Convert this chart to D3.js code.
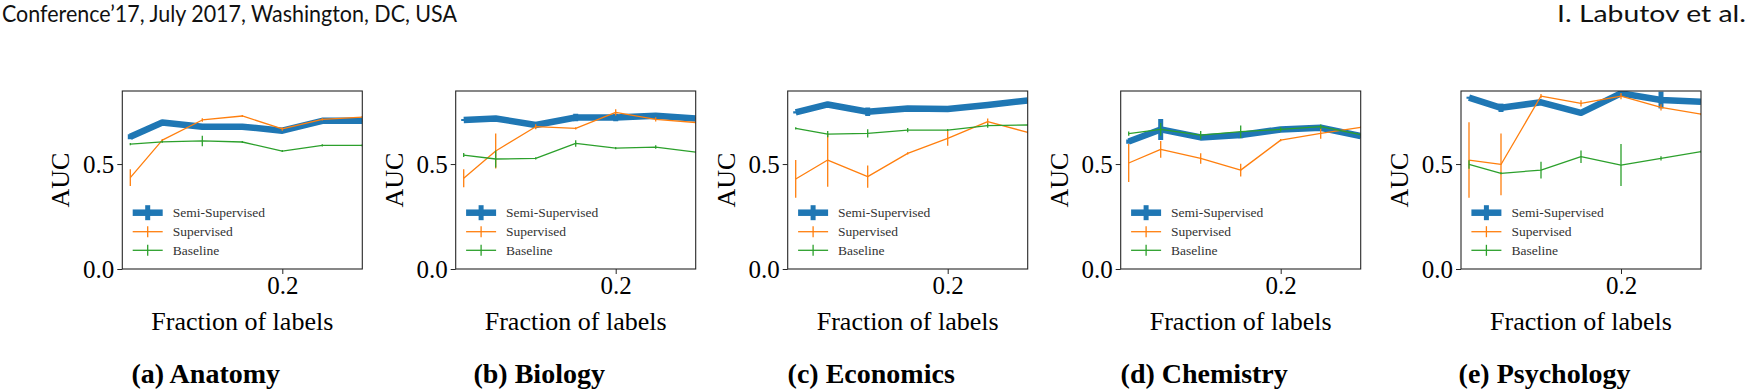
<!DOCTYPE html>
<html><head><meta charset="utf-8">
<script src="https://cdn.jsdelivr.net/npm/d3@7"></script>
<style>body{margin:0;background:#fff;} svg{display:block;}</style>
</head><body>
<svg id="chart" width="1754" height="391"></svg>
<script>
// ---------- data ----------
const xValues = [0.048, 0.08, 0.12, 0.16, 0.20, 0.24, 0.28];
const panelNames = ["(a) Anatomy", "(b) Biology", "(c) Economics", "(d) Chemistry", "(e) Psychology"];
const seriesNames = ["Semi-Supervised", "Supervised", "Baseline"];
const yTicks = [0.0, 0.5];
const xTicks = [0.2];
const headerLeft = "Conference’17, July 2017, Washington, DC, USA";
const headerRight = "I. Labutov et al.";
const xLabel = "Fraction of labels";
const yLabel = "AUC";

const semiValues = [
  [0.630, 0.698, 0.678, 0.678, 0.659, 0.706, 0.706],
  [0.710, 0.717, 0.686, 0.722, 0.722, 0.730, 0.717],
  [0.746, 0.784, 0.749, 0.765, 0.762, 0.781, 0.803],
  [0.607, 0.665, 0.627, 0.638, 0.665, 0.673, 0.633],
  [0.816, 0.768, 0.794, 0.744, 0.837, 0.805, 0.797]
];
const semiErrors = [
  [0.012, 0.005, 0.010, 0.005, 0.005, 0.005, 0.005],
  [0.005, 0.005, 0.012, 0.018, 0.018, 0.005, 0.005],
  [0.005, 0.005, 0.020, 0.005, 0.005, 0.005, 0.005],
  [0.010, 0.050, 0.008, 0.015, 0.008, 0.005, 0.010],
  [0.005, 0.020, 0.005, 0.005, 0.005, 0.040, 0.005]
];
const supValues = [
  [0.435, 0.614, 0.710, 0.729, 0.667, 0.713, 0.724],
  [0.432, 0.562, 0.678, 0.670, 0.746, 0.713, 0.698],
  [0.429, 0.519, 0.440, 0.551, 0.622, 0.702, 0.651],
  [0.505, 0.570, 0.527, 0.471, 0.614, 0.646, 0.675],
  [0.519, 0.498, 0.824, 0.789, 0.824, 0.770, 0.738]
];
const supErrors = [
  [0.040, 0.005, 0.008, 0.005, 0.008, 0.005, 0.005],
  [0.043, 0.083, 0.012, 0.005, 0.015, 0.010, 0.005],
  [0.090, 0.127, 0.053, 0.005, 0.035, 0.015, 0.005],
  [0.090, 0.040, 0.025, 0.030, 0.005, 0.025, 0.005],
  [0.180, 0.147, 0.010, 0.015, 0.015, 0.015, 0.005]
];
const baseValues = [
  [0.595, 0.606, 0.610, 0.605, 0.562, 0.589, 0.589],
  [0.543, 0.524, 0.527, 0.598, 0.576, 0.581, 0.557],
  [0.670, 0.643, 0.646, 0.662, 0.662, 0.683, 0.686],
  [0.645, 0.665, 0.638, 0.654, 0.665, 0.678, 0.640],
  [0.498, 0.456, 0.471, 0.535, 0.495, 0.527, 0.559]
];
const baseErrors = [
  [0.005, 0.005, 0.025, 0.005, 0.005, 0.005, 0.005],
  [0.010, 0.040, 0.005, 0.015, 0.005, 0.008, 0.005],
  [0.005, 0.015, 0.020, 0.010, 0.005, 0.010, 0.005],
  [0.010, 0.030, 0.020, 0.030, 0.010, 0.010, 0.005],
  [0.020, 0.005, 0.040, 0.030, 0.100, 0.010, 0.005]
];

// ---------- layout / style ----------
const axLeft = [122.3, 455.7, 787.7, 1120.7, 1461];
const axW = 240, axTop = 91, axBottom = 269;
const serif = "'Liberation Serif', 'Times New Roman', serif";
const colors = ["#1f77b4", "#ff7f0e", "#2ca02c"];
const widths = [6.5, 1.3, 1.3];
const errWidths = [5, 1.3, 1.3];
const allValues = [semiValues, supValues, baseValues];
const allErrors = [semiErrors, supErrors, baseErrors];

const svg = d3.select("#chart");

svg.append("text").attr("x", 2).attr("y", 22)
  .attr("font-family", "Lato, 'Open Sans', sans-serif").attr("font-size", 23)
  .attr("textLength", 455).attr("lengthAdjust", "spacingAndGlyphs")
  .attr("fill", "#111").text(headerLeft);
svg.append("text").attr("x", 1557).attr("y", 22)
  .attr("font-family", "Lato, 'Open Sans', sans-serif").attr("font-size", 23)
  .attr("textLength", 189).attr("lengthAdjust", "spacingAndGlyphs")
  .attr("fill", "#111").text(headerRight);

const y = d3.scaleLinear().domain([0, 0.848]).range([axBottom, axTop]);
const defs = svg.append("defs");

panelNames.forEach((name, i) => {
  const L = axLeft[i];
  const x = d3.scaleLinear().domain([0.04, 0.28]).range([L, L + axW]);
  const g = svg.append("g");

  defs.append("clipPath").attr("id", "clip" + i)
    .append("rect").attr("x", L).attr("y", axTop).attr("width", axW).attr("height", axBottom - axTop);

  // axes
  const ya = g.append("g").attr("transform", `translate(${L},0)`)
    .call(d3.axisLeft(y).tickValues(yTicks).tickFormat(d3.format(".1f")).tickSize(5).tickPadding(3));
  const xa = g.append("g").attr("transform", `translate(0,${axBottom})`)
    .call(d3.axisBottom(x).tickValues(xTicks).tickFormat(d3.format(".1f")).tickSize(5).tickPadding(2));
  [ya, xa].forEach(a => {
    a.select(".domain").remove();
    a.attr("font-family", serif).attr("font-size", 25);
    a.selectAll("line").attr("stroke", "#262626").attr("stroke-width", 1);
    a.selectAll("text").attr("fill", "#000");
  });

  // series
  const plot = g.append("g").attr("clip-path", `url(#clip${i})`);
  allValues.forEach((vals, s) => {
    const v = vals[i], e = allErrors[s][i];
    const line = d3.line().x((d, k) => x(xValues[k])).y(d => y(d));
    plot.append("path").datum(v).attr("d", line)
      .attr("fill", "none").attr("stroke", colors[s]).attr("stroke-width", widths[s])
      .attr("stroke-linejoin", "round");
    plot.selectAll(null).data(v).enter().append("line")
      .attr("x1", (d, k) => x(xValues[k])).attr("x2", (d, k) => x(xValues[k]))
      .attr("y1", (d, k) => y(d - e[k])).attr("y2", (d, k) => y(d + e[k]))
      .attr("stroke", colors[s]).attr("stroke-width", errWidths[s]);
  });

  // box
  g.append("rect").attr("x", L).attr("y", axTop).attr("width", axW).attr("height", axBottom - axTop)
    .attr("fill", "none").attr("stroke", "#262626").attr("stroke-width", 1.1);

  // legend
  const legY = [212.7, 231.7, 250.3];
  const legBar = [7.5, 5.5, 5.5];
  seriesNames.forEach((sn, s) => {
    g.append("line").attr("x1", L + 10.4).attr("x2", L + 40.4).attr("y1", legY[s]).attr("y2", legY[s])
      .attr("stroke", colors[s]).attr("stroke-width", widths[s]);
    g.append("line").attr("x1", L + 25.4).attr("x2", L + 25.4)
      .attr("y1", legY[s] - legBar[s]).attr("y2", legY[s] + legBar[s])
      .attr("stroke", colors[s]).attr("stroke-width", errWidths[s]);
    g.append("text").attr("x", L + 50.4).attr("y", legY[s]).attr("dy", "0.35em")
      .attr("font-family", serif).attr("font-size", 13.5).attr("fill", "#333").text(sn);
  });

  // labels
  g.append("text").attr("x", L + axW / 2).attr("y", 330).attr("text-anchor", "middle")
    .attr("font-family", serif).attr("font-size", 26).attr("fill", "#000").text(xLabel);
  g.append("text").attr("transform", `translate(${L - 62},180) rotate(-90)`)
    .attr("text-anchor", "middle").attr("dy", "0.35em")
    .attr("font-family", serif).attr("font-size", 26).attr("fill", "#000").text(yLabel);

  // caption
  g.append("text").attr("x", L + axW / 2 - 36.5).attr("y", 383).attr("text-anchor", "middle")
    .attr("font-family", serif).attr("font-size", 28).attr("font-weight", "bold")
    .attr("fill", "#000").text(name);
});
</script>
</body></html>
